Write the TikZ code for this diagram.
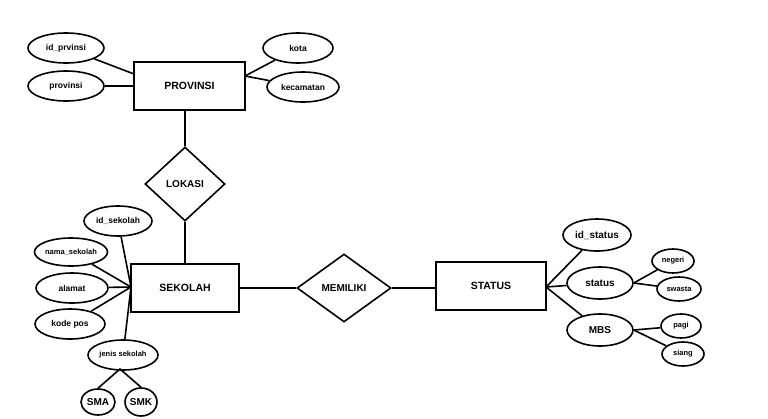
\documentclass[tikz,border=0pt]{standalone}
\usepackage{fontspec}
\setmainfont{Liberation Sans}
\usetikzlibrary{shapes.geometric}
\begin{document}
\begin{tikzpicture}[x=1pt,y=-1pt,line width=1.6pt,
 ent/.style={draw,minimum width=#1,minimum height=48pt,font=\bfseries\fontsize{10.5}{12}\selectfont,inner sep=0},
 att/.style args={#1/#2}{draw,ellipse,minimum width=#1,minimum height=#2,inner sep=0,font=\bfseries\fontsize{8.5}{10}\selectfont},
 big/.style={font=\bfseries\fontsize{10}{12}\selectfont},
 small/.style={font=\bfseries\fontsize{7.5}{9}\selectfont},
 rel/.style args={#1/#2}{draw,diamond,minimum width=#1,minimum height=#2,inner sep=0,font=\bfseries\fontsize{10}{11}\selectfont}]
\useasboundingbox (0,0) rectangle (768,418);
\node[ent=111pt] (prov) at (189.5,86) {PROVINSI};
\node[ent=108pt] (sek) at (185,288) {SEKOLAH};
\node[ent=110pt] (stat) at (491,286) {STATUS};
\node[rel=80pt/74pt] (lok) at (185,184) {LOKASI};
\node[rel=94pt/68pt] (mem) at (344,288) {MEMILIKI};
\node[att=76pt/30pt] (idp) at (66,48) {id\_prvinsi};
\node[att=76pt/30pt] (pv) at (66,86) {provinsi};
\node[att=70pt/30pt] (kota) at (298,48) {kota};
\node[att=72pt/30pt] (kec) at (303,87) {kecamatan};
\node[att=68pt/30pt] (ids) at (118,221) {id\_sekolah};
\node[att=70pt/28pt,small] (nama) at (71,252) {nama\_sekolah};
\node[att=72pt/30pt] (alm) at (72,288) {alamat};
\node[att=70pt/30pt] (kp) at (70,324) {kode pos};
\node[att=70pt/30pt,small] (jen) at (123,355) {jenis sekolah};
\node[att=34pt/26pt,big] (sma) at (98,402) {SMA};
\node[att=32pt/28pt,big] (smk) at (141,402) {SMK};
\node[att=68pt/32pt,big] (idst) at (597,235) {id\_status};
\node[att=66pt/32pt,big] (st) at (600,283) {status};
\node[att=66pt/32pt,big] (mbs) at (600,330) {MBS};
\node[att=42pt/24pt,small] (neg) at (673,261) {negeri};
\node[att=44pt/24pt,small] (swa) at (679,289) {swasta};
\node[att=40pt/24pt,small] (pagi) at (681,326) {pagi};
\node[att=42pt/24pt,small] (sia) at (683,354) {siang};
\coordinate (pl) at (134,74);
\coordinate (pr) at (245,76);
\coordinate (sl) at (131,287);
\coordinate (sr) at (546,287);
\coordinate (jb) at (120,369);
\draw (idp) -- (pl); \draw (pv) -- (prov.west |- pv);
\draw (kota) -- (pr); \draw (kec) -- (pr);
\draw (prov.south -| lok) -- (lok.north); \draw (lok.south) -- (sek.north -| lok);
\draw (sek.east) -- (mem.west); \draw (mem.east) -- (stat.west |- mem);
\foreach \a in {ids,nama,alm,kp,jen} \draw (\a) -- (sl);
\draw (sma.north) -- (jb) -- (smk.north);
\foreach \a in {idst,st,mbs} \draw (\a) -- (sr);
\draw (neg) -- (st.east); \draw (swa) -- (st.east);
\draw (pagi) -- (mbs.east); \draw (sia) -- (mbs.east);
\end{tikzpicture}
\end{document}
